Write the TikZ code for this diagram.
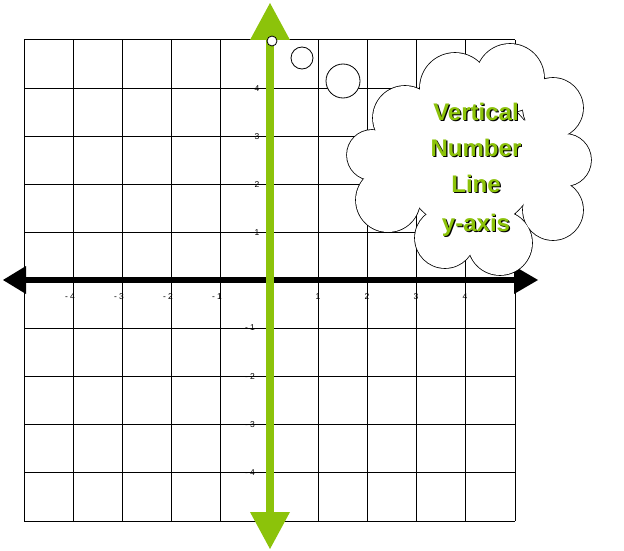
\documentclass[tikz,border=0pt]{standalone}
\usepackage{fontspec}
\setmainfont{Liberation Sans}
\definecolor{ygreen}{RGB}{140,195,10}
\begin{document}
\begin{tikzpicture}[x=1pt,y=-1pt,
  gridl/.style={black,line width=1pt},
  lab/.style={font=\fontsize{8.5}{9}\selectfont},
  cloudtxt/.style={font=\fontsize{24}{26}\selectfont\bfseries,text=ygreen},
  shadowtxt/.style={font=\fontsize{24}{26}\selectfont\bfseries,text=black}]
\useasboundingbox (0,0) rectangle (624,551);
\fill[white] (0,0) rectangle (624,551);
% grid
\foreach \i in {0,...,10}{
  \draw[gridl] ({24+49.1*\i},40) -- ({24+49.1*\i},521);
  \draw[gridl] (24,{40+48.1*\i}) -- (515,{40+48.1*\i});
}
% x axis
\draw[line width=6pt] (20,280) -- (518,280);
\fill (3,280) -- (26,266) -- (26,294) -- cycle;
\fill (538,280) -- (514,266) -- (514,294) -- cycle;
% y axis
\draw[ygreen,line width=8pt] (270,30) -- (270,530);
\fill[ygreen] (270,3) -- (250,40) -- (290,40) -- cycle;
\fill[ygreen] (270,549) -- (250,512) -- (290,512) -- cycle;
% labels
\foreach \v/\x in {4/70,3/119,2/168,1/217}{\node[lab] (xl\v) at (\x,297) {- \v};}
\foreach \v/\x in {1/318,2/367,3/416,4/465}{\node[lab] (xr\v) at (\x,297) {\v};}
\foreach \v/\y in {4/89,3/137,2/185,1/233}{\node[lab] (yu\v) at (257,\y) {\v};}
\foreach \v/\y in {1/328,2/377,3/425,4/473}{\node[lab] (yd\v) at (250,\y) {- \v};}
% thought circles
\draw[fill=white,line width=0.8pt] (272,41) circle (5);
\draw[fill=white,line width=0.8pt] (302,58) circle (11);
\draw[fill=white,line width=0.8pt] (343,81) circle (17);
% cloud
\def\cloudlist{405/118/32, 455/88/35, 510/78/34, 553/108/30, 565/160/26, 553/210/30, 500/243/32, 445/238/30, 388/200/32, 372/155/25, 470/162/68, 420/165/42, 530/160/40}
\foreach \cx/\cy/\r in \cloudlist {\draw[line width=1.6pt] (\cx,\cy) circle (\r);}
\foreach \cx/\cy/\r in \cloudlist {\fill[white] (\cx,\cy) circle (\r);}
\foreach \t/\y [count=\k] in {Vertical/112,Number/148,Line/184,y-axis/225}{
  \node[shadowtxt] at (477.2,\y+1.2) {\t};
  \node[cloudtxt] (t\k) at (476,\y) {\t};
}
\end{tikzpicture}
\end{document}
